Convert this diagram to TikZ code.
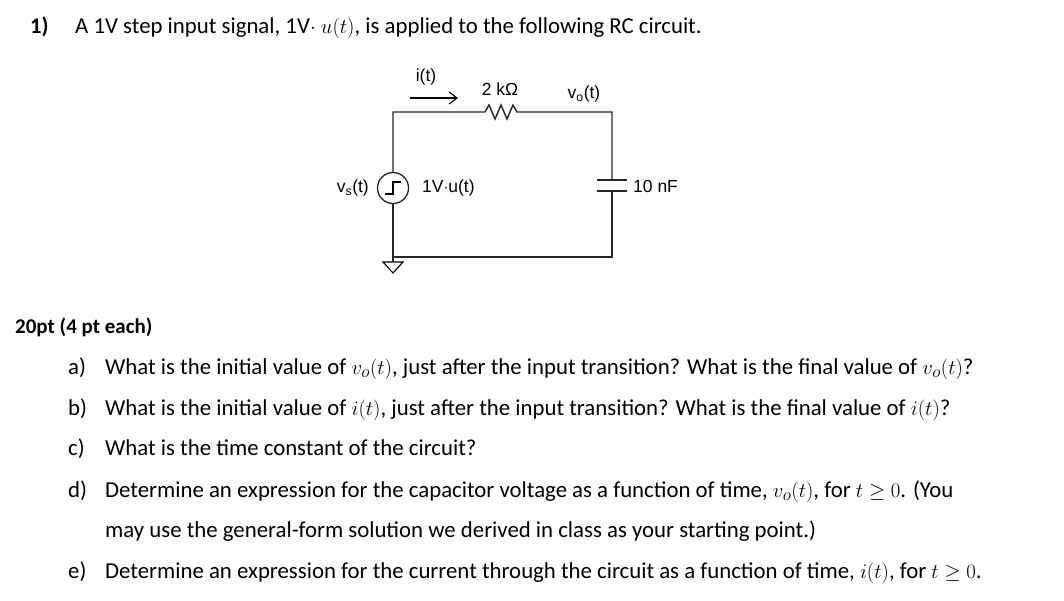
\documentclass[tikz,border=0pt]{standalone}
\usepackage{fontspec}
\usepackage{amssymb}
\setmainfont{Carlito}
\newfontfamily\arial{Liberation Sans}
\begin{document}
\begin{tikzpicture}[x=1pt,y=-1pt,
  wire/.style={line width=1.4pt,draw=black!85},
  clab/.style={font=\arial\fontsize{17.5}{19}\selectfont,inner sep=1pt},
  txt/.style={font=\fontsize{22.8}{26}\selectfont,anchor=base west,inner sep=0pt},
  lab/.style={font=\fontsize{22.8}{26}\selectfont,anchor=base west,inner sep=0pt}]
\useasboundingbox (0,0) rectangle (1064,600);
% title
\node[lab,font=\bfseries\fontsize{22.5}{26}\selectfont] (n1) at (30,33) {1)};
\node[txt] (t1) at (75,33) {A 1V step input signal, 1V$\cdot$ $u(t)$, is applied to the following RC circuit.};
% circuit
\coordinate (tl) at (393,112);
\coordinate (tr) at (612,112);
\coordinate (br) at (612,257);
\coordinate (bl) at (393,257);
\node[draw,circle,line width=1.3pt,draw=black!85,minimum size=31pt,inner sep=0pt] (src) at (393,188) {};
\draw[line width=1.1pt] (385,194) -- (393,194) -- (393,182) -- (401,182);
\coordinate (r1) at (482,112);
\coordinate (r2) at (520,112);
\draw[wire] (src.north) -- (tl) -- (r1) -- (485,112) -- (489,105) -- (495,119) -- (501,105) -- (507,119) -- (513,105) -- (517,112) -- (r2) -- (tr) -- (612,180);
\draw[wire] (597,180) -- (627,180);
\draw[wire] (597,191) -- (627,191);
\draw[wire] (612,191) -- (br) -- (bl) -- (src.south);
\draw[wire] (bl) -- (393,262);
\draw[line width=1.1pt] (383,262) -- (403,262) -- (393,273) -- cycle;
\draw[line width=1.1pt] (410,98) -- (456,98);
\draw[line width=1.1pt] (449,92) -- (457,98) -- (449,104);
\node[clab] (li) at (426,77) {i(t)};
\node[clab] (lr) at (500,89) {2 k\arial Ω};
\node[clab] (lv) at (584,94) {v\textsubscript{o}(t)};
\node[clab,anchor=east] (ls) at (370,188) {v\textsubscript{s}(t)};
\node[clab,anchor=west] (lu) at (421,188) {1V$\cdot$u(t)};
\node[clab,anchor=west] (lc) at (632,186) {10 nF};
% questions
\node[lab,font=\bfseries\fontsize{21}{26}\selectfont] (h) at (15,333) {20pt (4 pt each)};
\foreach \y/\l/\t in {
 374/a)/{What is the initial value of $v_o(t)$, just after the input transition? What is the final value of $v_o(t)$?},
 415/b)/{What is the initial value of $i(t)$, just after the input transition? What is the final value of $i(t)$?},
 455/c)/{What is the time constant of the circuit?},
 497/d)/{Determine an expression for the capacitor voltage as a function of time, $v_o(t)$, for $t\geq 0$. (You},
 537/{}/{may use the general-form solution we derived in class as your starting point.)},
 578/e)/{Determine an expression for the current through the circuit as a function of time, $i(t)$, for $t\geq 0$.}}
{\node[lab] at (68,\y) {\l}; \node[txt] at (105,\y) {\t};}
\end{tikzpicture}
\end{document}
